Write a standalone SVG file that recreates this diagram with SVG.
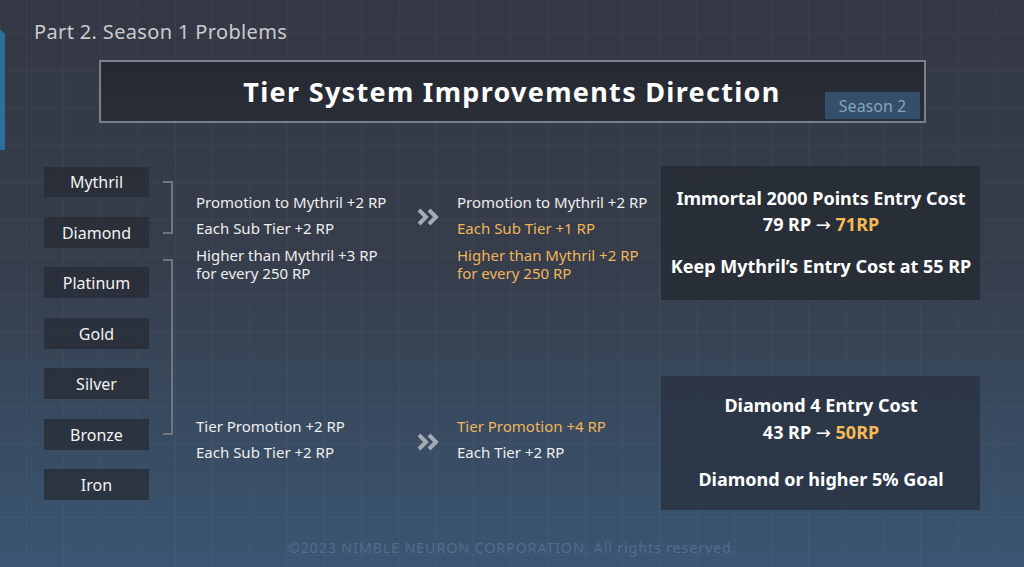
<svg xmlns="http://www.w3.org/2000/svg" width="1024" height="567" viewBox="0 0 1024 567">
<defs>
<linearGradient id="bg" x1="0" y1="0" x2="0" y2="1">
<stop offset="0" stop-color="#343844"/>
<stop offset="0.45" stop-color="#363d4b"/>
<stop offset="1" stop-color="#3a5672"/>
</linearGradient>
<pattern id="grid" x="26" y="33" width="37.25" height="37.25" patternUnits="userSpaceOnUse">
<path d="M0 0 H37.25 M0 0 V37.25" stroke="#ffffff" stroke-opacity="0.045" stroke-width="1.5" fill="none"/>
</pattern>
<linearGradient id="titlebg" x1="0" y1="0" x2="0" y2="1">
<stop offset="0" stop-color="#22252d" stop-opacity="0.85"/>
<stop offset="1" stop-color="#262a33" stop-opacity="0.75"/>
</linearGradient>
<style>
text{font-family:"Noto Sans","Open Sans","Liberation Sans",sans-serif;}
.tier rect{fill:#272b34;fill-opacity:0.75;}
.tier text{fill:#f2f2f2;font-size:16px;text-anchor:middle;}
.t{fill:#eeeeee;font-size:15px;}
.o{fill:#f0b55a;font-size:15px;}
.br{stroke:#72767f;stroke-width:2;fill:none;}
.chev{fill:none;stroke:#a5abb4;stroke-width:4;}
.box rect{fill:#262a32;fill-opacity:0.8;}
.box text{fill:#ffffff;font-size:18px;font-weight:bold;text-anchor:middle;}
.arr{font-family:"DejaVu Sans",sans-serif;font-weight:normal;}
</style>
</defs>
<rect width="1024" height="567" fill="url(#bg)"/>
<rect width="1024" height="567" fill="url(#grid)"/>
<path d="M0 29 L5 34 L5 150 L0 150 Z" fill="#2d6e9a"/>
<text x="34" y="39" font-size="20" fill="#c9cbd1" letter-spacing="0.35">Part 2. Season 1 Problems</text>
<g id="title">
<rect x="100" y="61" width="825" height="61" fill="url(#titlebg)" stroke="#7c7f8c" stroke-width="2"/>
<text x="512" y="102" font-size="27" font-weight="bold" fill="#ffffff" text-anchor="middle" letter-spacing="1.3">Tier System Improvements Direction</text>
<rect x="825" y="92" width="95" height="27" fill="#35536f" fill-opacity="0.9"/>
<text x="872.5" y="112" font-size="16" fill="#86a3bb" text-anchor="middle">Season 2</text>
</g>
<g id="tier-mythril" class="tier"><rect x="44" y="167" width="105" height="30"/><text x="96.5" y="188">Mythril</text></g>
<g id="tier-diamond" class="tier"><rect x="44" y="217" width="105" height="31"/><text x="96.5" y="239">Diamond</text></g>
<g id="tier-platinum" class="tier"><rect x="44" y="267" width="105" height="31"/><text x="96.5" y="289">Platinum</text></g>
<g id="tier-gold" class="tier"><rect x="44" y="318" width="105" height="31"/><text x="96.5" y="340">Gold</text></g>
<g id="tier-silver" class="tier"><rect x="44" y="368" width="105" height="31"/><text x="96.5" y="390">Silver</text></g>
<g id="tier-bronze" class="tier"><rect x="44" y="419" width="105" height="31"/><text x="96.5" y="441">Bronze</text></g>
<g id="tier-iron" class="tier"><rect x="44" y="469" width="105" height="31"/><text x="96.5" y="491">Iron</text></g>
<g id="connectors">
<path class="br" d="M163 182 H172 V233 H163"/>
<path class="br" d="M163 260 H172 V434 H163"/>
<path class="chev" d="M419 210 L426 217 L419 224 M429 210 L436 217 L429 224"/>
<path class="chev" d="M419 435 L426 442 L419 449 M429 435 L436 442 L429 449"/>
</g>
<g id="old-high">
<text class="t" x="196" y="208">Promotion to Mythril +2 RP</text>
<text class="t" x="196" y="234">Each Sub Tier +2 RP</text>
<text class="t" x="196" y="261">Higher than Mythril +3 RP</text>
<text class="t" x="196" y="279">for every 250 RP</text>
</g>
<g id="new-high">
<text class="t" x="457" y="208">Promotion to Mythril +2 RP</text>
<text class="o" x="457" y="234">Each Sub Tier +1 RP</text>
<text class="o" x="457" y="261">Higher than Mythril +2 RP</text>
<text class="o" x="457" y="279">for every 250 RP</text>
</g>
<g id="old-low">
<text class="t" x="196" y="432">Tier Promotion +2 RP</text>
<text class="t" x="196" y="458">Each Sub Tier +2 RP</text>
</g>
<g id="new-low">
<text class="o" x="457" y="432">Tier Promotion +4 RP</text>
<text class="t" x="457" y="458">Each Tier +2 RP</text>
</g>
<g id="box-immortal" class="box">
<rect x="661" y="166" width="319" height="134"/>
<text x="821" y="205">Immortal 2000 Points Entry Cost</text>
<text x="821" y="231">79 RP <tspan class="arr">→</tspan> <tspan fill="#f5b955">71RP</tspan></text>
<text x="821" y="273">Keep Mythril’s Entry Cost at 55 RP</text>
</g>
<g id="box-diamond" class="box">
<rect x="661" y="376" width="319" height="134" style="fill:#2a3444;fill-opacity:0.85"/>
<text x="821" y="412">Diamond 4 Entry Cost</text>
<text x="821" y="439">43 RP <tspan class="arr">→</tspan>  <tspan fill="#f5b955">50RP</tspan></text>
<text x="821" y="486">Diamond or higher 5% Goal</text>
</g>
<text x="512" y="553" font-size="14.5" fill="#4f6d8c" text-anchor="middle" letter-spacing="0.75">©2023 NIMBLE NEURON CORPORATION. All rights reserved.</text>
</svg>
